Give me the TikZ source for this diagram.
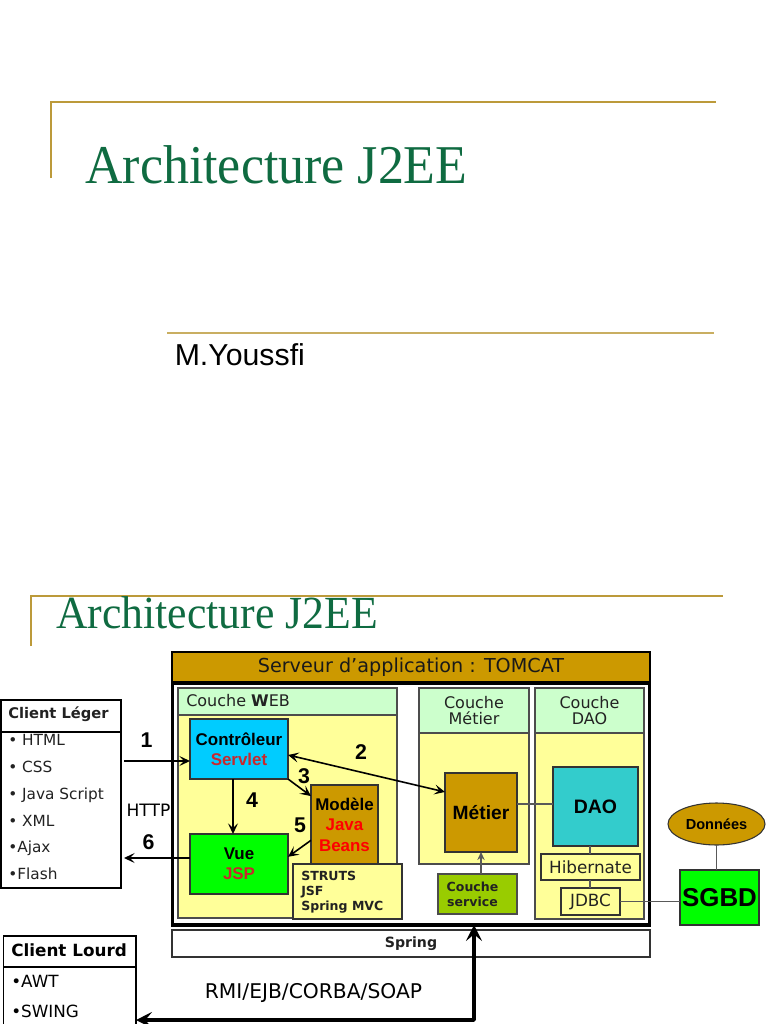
\documentclass[tikz,border=0pt]{standalone}
\usepackage{fontspec}
\setmainfont{DejaVu Sans}
\newfontfamily\arialf{Liberation Sans}
\newfontfamily\titlef[FakeStretch=0.95]{Liberation Serif}
\usetikzlibrary{arrows.meta,shapes.geometric,calc}
\definecolor{gold}{HTML}{CC9900}
\definecolor{rulegold}{HTML}{BC9A3A}
\definecolor{paleyellow}{HTML}{FFFF99}
\definecolor{palegreen}{HTML}{CCFFCC}
\definecolor{titlegreen}{HTML}{0F6B41}
\definecolor{servlet}{HTML}{C8282D}
\definecolor{ctrlblue}{HTML}{00CCFF}
\definecolor{daoteal}{HTML}{33CCCC}
\definecolor{olivegreen}{HTML}{99CC00}
\definecolor{txt}{HTML}{222222}
\newcommand{\fs}[1]{\fontsize{#1}{#1}\selectfont\setlength\baselineskip{1.05\baselineskip}}
\tikzset{
  pb/.style={draw=black,line width=.8pt,inner sep=0pt,outer sep=0pt,align=center,rectangle},
  ln/.style={draw=black!65,line width=.9pt},
  arr/.style={draw=black,line width=1.2pt,-{Stealth[length=8pt,width=7.5pt,inset=3.5pt]}},
  lab/.style={inner sep=0pt,anchor=center},
  li/.style={inner sep=0pt,anchor=base west,text=txt,font=\fs{11.5}},
  num/.style={inner sep=0pt,anchor=center,font=\arialf\bfseries\fs{16}},
  deco/.style={draw=rulegold,line width=1.5pt},
  boldbox/.style={font=\arialf\bfseries\fs{12.7},text=black},
  plainbox/.style={font=\fs{12},text=txt},
}
\newcommand{\pbx}[7]{%
  \pgfmathsetmacro\pw{(#4-#2)*0.75}\pgfmathsetmacro\ph{(#5-#3)*0.75}%
  \node[pb,minimum width=\pw pt,minimum height=\ph pt,#6] (#1) at ({(#2+#4)/2},{(#3+#5)/2}) {#7};}
\begin{document}
\begin{tikzpicture}[x=0.75pt,y=-0.75pt]
\useasboundingbox (0,0) rectangle (768,1024);
\clip (0,0) rectangle (768,1024);
\fill[white] (0,0) rectangle (768,1024);
% slide decoration
\draw[deco] (51,178) -- (51,102) -- (716,102);
\draw[deco,draw=rulegold!80] (167,333) -- (714,333);
\draw[deco] (31,646) -- (31,596) -- (723,596);
\node[inner sep=0pt,anchor=base west,text=titlegreen,font=\titlef\fs{41}] (t1) at (85,183) {Architecture J2EE};
\node[inner sep=0pt,anchor=base west,text=black,font=\arialf\fs{22.7}] (t2) at (174.5,365) {M.Youssfi};
\node[inner sep=0pt,anchor=base west,text=titlegreen,font=\titlef\fs{34.5}] (t3) at (56,628) {Architecture J2EE};
% server
\pbx{bar}{172}{652}{650}{683}{fill=gold,font=\fs{14.4},text=black!90}{Serveur d’application : TOMCAT}
\pbx{srv}{172.5}{683}{649.5}{925}{fill=white,line width=2.3pt}{}
\pbx{spring}{172}{930}{650}{957}{fill=white,draw=black!80,font=\fs{10.6}\bfseries,text=txt}{Spring}
% WEB
\pbx{webb}{178}{715}{397}{918}{fill=paleyellow,draw=black!70}{}
\pbx{webh}{178}{688}{397}{715}{fill=palegreen,draw=black!70}{}
\node[lab,anchor=base west,text=txt,font=\fs{12}] (webt) at (186,706) {Couche \textbf{W}EB};
\pbx{ctrl}{190}{719}{288}{779}{fill=ctrlblue,draw=black!80,boldbox}{Contrôleur\\[2pt]\textcolor{servlet}{Servlet}}
\pbx{vue}{190}{834}{288}{894}{fill=green,draw=black!80,boldbox}{Vue\\[2pt]\textcolor{servlet}{JSP}}
\pbx{mod}{311}{785}{378}{864}{fill=gold,draw=black!80,boldbox}{Modèle\\[2pt]\textcolor{red}{Java}\\[2pt]\textcolor{red}{Beans}}
\pbx{stru}{293}{864}{402}{919}{fill=paleyellow,draw=black!80}{}
\node[inner sep=0pt,anchor=base west,text=txt,font=\fs{9.4}\bfseries] (s1) at (301,880) {STRUTS};
\node[inner sep=0pt,anchor=base west,text=txt,font=\fs{9.4}\bfseries] (s2) at (301,895) {JSF};
\node[inner sep=0pt,anchor=base west,text=txt,font=\fs{9.4}\bfseries] (s3) at (301,910.5) {Spring MVC};
% Metier
\pbx{mb}{419}{733}{529}{864}{fill=paleyellow,draw=black!70}{}
\pbx{mh}{419}{688}{529}{733}{fill=palegreen,draw=black!70,plainbox}{Couche\\Métier}
\pbx{metier}{445}{773}{517}{852}{fill=gold,draw=black!80,font=\arialf\bfseries\fs{14.4},text=black}{Métier}
\pbx{serv}{438}{874}{517}{914}{fill=olivegreen,draw=black!70}{}
\node[lab,align=center,font=\fs{9.4}\bfseries,text=txt] (servt) at (472.5,894) {Couche\\[1.5pt]service};
% DAO
\pbx{db}{535}{733}{644}{919}{fill=paleyellow,draw=black!70}{}
\pbx{dh}{535}{688}{644}{733}{fill=palegreen,draw=black!70,plainbox}{Couche\\DAO}
\pbx{dao}{553}{767}{638}{846}{fill=daoteal,draw=black!80,font=\arialf\bfseries\fs{14.6},text=black}{DAO}
\pbx{hib}{541}{854}{640}{880}{fill=paleyellow,draw=black!80,font=\fs{12.6},text=txt}{Hibernate}
\pbx{jdbc}{561}{888}{620}{915}{fill=paleyellow,draw=black!80,font=\fs{12.6},text=txt}{JDBC}
% SGBD
\pbx{sgbd}{680}{870}{759}{925}{fill=green,draw=black!80,font=\arialf\bfseries\fs{19.4},text=black}{SGBD}
\node[ellipse,draw=black!80,line width=.8pt,fill=gold,inner sep=0pt,minimum width=72.75pt,minimum height=31.5pt,outer sep=0pt,font=\arialf\bfseries\fs{10.9}] (don) at (716.5,824) {Données};
% clients
\pbx{cl}{1}{700}{121}{888}{fill=white}{}
\coordinate (clsepl) at (1,732); \coordinate (clsepr) at (121,732);
\draw[line width=.8pt] (clsepl) -- (clsepr);
\node[li,font=\fs{11}\bfseries] (clt) at (8,718) {Client Léger};
\node[li] (l1) at (8,745) {• HTML};
\node[li] (l2) at (8,772) {• CSS};
\node[li] (l3) at (8,799) {• Java Script};
\node[li] (l4) at (8,826) {• XML};
\node[li] (l5) at (8,852) {•Ajax};
\node[li] (l6) at (8,879) {•Flash};
\pbx{cr}{3.5}{936}{136}{1040}{fill=white}{}
\coordinate (crsepl) at (3.5,967); \coordinate (crsepr) at (136,967);
\draw[line width=.8pt] (crsepl) -- (crsepr);
\node[li,font=\fs{12.6}\bfseries,text=black] (crt) at (11,956) {Client Lourd};
\node[li,font=\fs{12.6},text=black] (r1) at (11,987) {•AWT};
\node[li,font=\fs{12.6},text=black] (r2) at (11,1017) {•SWING};
% labels
\node[lab,font=\fs{12.8}] (http) at (148.5,810) {HTTP};
\node[lab,font=\fs{15.2}] (rmi) at (313.5,993) {RMI/EJB/CORBA/SOAP};
\node[num] (n1) at (146.5,740) {1};
\node[num] (n2) at (361,752) {2};
\node[num] (n3) at (304,776) {3};
\node[num] (n4) at (252,800) {4};
\node[num] (n5) at (300,825) {5};
\node[num] (n6) at (148.5,842) {6};
% connectors
\coordinate (a1) at (124,761);
\coordinate (a6) at (124,858);
\draw[arr] (a1) -- (ctrl.west |- a1);
\draw[arr] (vue.west |- a6) -- (a6);
\draw[arr,{Stealth[length=8pt,width=7.5pt,inset=3.5pt]}-{Stealth[length=8pt,width=7.5pt,inset=3.5pt]}] ($(ctrl.north east)!.6!(ctrl.south east)$) -- ($(metier.north west)!.24!(metier.south west)$);
\draw[arr] (ctrl.south east) -- ($(mod.north west)!.14!(mod.south west)$);
\draw[arr] (ctrl.south -| 233,0) -- (vue.north -| 233,0);
\draw[arr] ($(mod.north west)!.7!(mod.south west)$) -- ($(vue.north east)!.38!(vue.south east)$);
\draw[ln] (metier.east |- 0,804) -- (dao.west |- 0,804);
\draw[ln,-{Stealth[length=6pt,width=5.5pt]}] (serv.north -| 481,0) -- (metier.south -| 481,0);
\draw[ln] (dao.south -| 590,0) -- (hib.north -| 590,0);
\draw[ln] (hib.south -| 590,0) -- (jdbc.north -| 590,0);
\draw[ln] (jdbc.east) -- (sgbd.west |- jdbc.east);
\draw[ln] (don.south) -- (sgbd.north -| don.south);
\coordinate (corner) at (474,1020);
\draw[draw=black,line width=2.8pt,{Stealth[length=12pt,width=12pt,inset=5pt]}-{Stealth[length=12pt,width=12pt,inset=5pt]},line join=round] (cr.east |- corner) -- (corner) -- (corner |- srv.south);
\end{tikzpicture}
\end{document}
